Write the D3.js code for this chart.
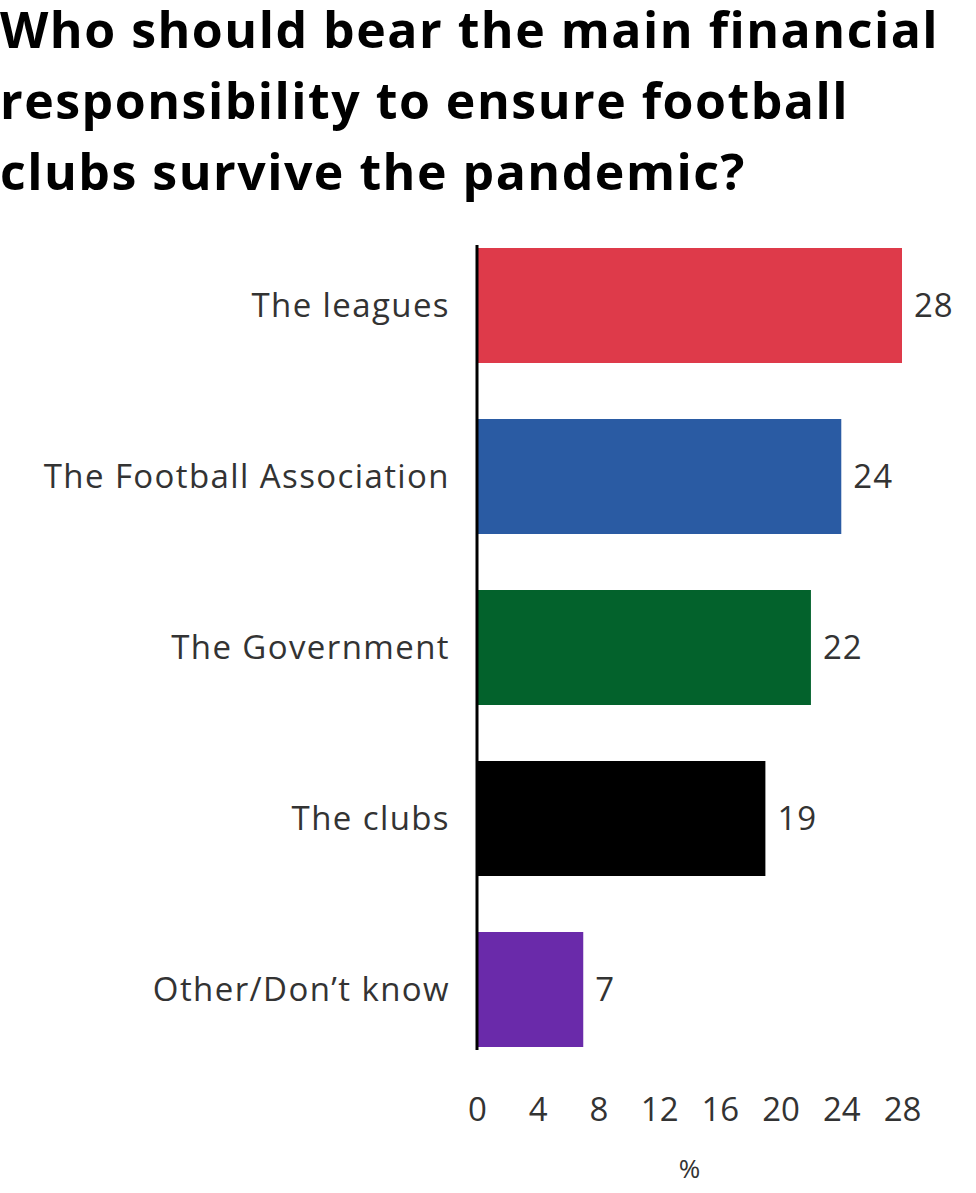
<!DOCTYPE html>
<html><head><meta charset="utf-8">
<script src="https://cdn.jsdelivr.net/npm/d3@7"></script>
<style>body{margin:0;background:#fff}svg{display:block}</style>
</head><body>
<script>
const categories = ["The leagues","The Football Association","The Government","The clubs","Other/Don\u2019t know"];
const values = [28,24,22,19,7];
const colors = ["#DE3A4A","#2A5BA3","#03622C","#000000","#6A2AAA"];
const ticks = [0,4,8,12,16,20,24,28];
const titleLines = ["Who should bear the main financial","responsibility to ensure football","clubs survive the pandemic?"];

const W=976,H=1193;
const svg=d3.select("body").append("svg").attr("width",W).attr("height",H);
const font="'Open Sans', 'Noto Sans', sans-serif";
svg.append("g").selectAll("text").data(titleLines).join("text")
  .attr("x",0).attr("y",(d,i)=>48+i*71)
  .attr("font-family",font).attr("font-weight",700).attr("font-size",50).attr("letter-spacing",1.5)
  .attr("fill","#000").text(d=>d);

const x=d3.scaleLinear().domain([0,28]).range([477,902]);
const y=d3.scaleBand().domain(categories).range([248-28,1047+28]).paddingInner(56/171).paddingOuter(28/171);

svg.append("g").selectAll("rect").data(categories).join("rect")
  .attr("x",x(0)).attr("y",d=>y(d)).attr("height",y.bandwidth())
  .attr("width",(d,i)=>x(values[i])-x(0)).attr("fill",(d,i)=>colors[i]);

svg.append("g").selectAll("text").data(categories).join("text")
  .attr("x",450).attr("y",d=>y(d)+y.bandwidth()/2).attr("dy","0.35em")
  .attr("text-anchor","end").attr("font-family",font).attr("font-size",33).attr("letter-spacing",1.4).attr("fill","#333").text(d=>d);

svg.append("g").selectAll("text").data(categories).join("text")
  .attr("x",(d,i)=>x(values[i])+12).attr("y",d=>y(d)+y.bandwidth()/2).attr("dy","0.35em")
  .attr("font-family",font).attr("font-size",33).attr("letter-spacing",1).attr("fill","#333").text((d,i)=>values[i]);

svg.append("line").attr("x1",x(0)).attr("x2",x(0)).attr("y1",245).attr("y2",1050)
  .attr("stroke","#000").attr("stroke-width",3);

const ax=svg.append("g").attr("transform","translate(0,1088)")
  .call(d3.axisBottom(x).tickValues(ticks).tickSize(0).tickPadding(0));
ax.select(".domain").remove();
ax.selectAll("text").attr("font-family",font).attr("font-size",33).attr("fill","#333").attr("dy","1em");

svg.append("text").attr("x",(x(0)+x(28))/2).attr("y",1178).attr("text-anchor","middle")
  .attr("font-family",font).attr("font-size",26).attr("fill","#333").text("%");
</script>
</body></html>
